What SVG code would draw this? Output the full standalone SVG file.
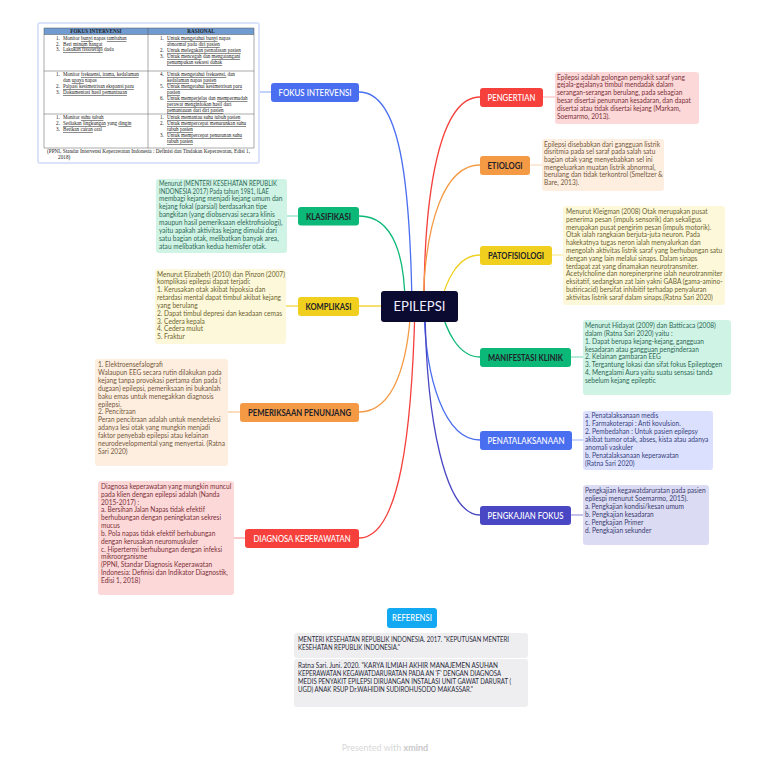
<svg xmlns="http://www.w3.org/2000/svg" width="768" height="759" viewBox="0 0 768 759">
<style>
text{font-family:"Lato","Noto Sans","Liberation Sans",sans-serif}
.t{font-size:9.5px;font-weight:500;text-anchor:middle}
.w{fill:#fff}.d{fill:#22222a;font-weight:700}
.n{font-size:6.6px}
.c{fill:none;stroke-width:1.3}
.l{fill:none;stroke-width:1.1}
.tb text{font-family:"Liberation Serif","Times New Roman",serif;font-size:5.1px;fill:#222}
.tb .h{font-weight:700;text-anchor:middle;font-size:5.2px}
.tb .k{font-size:5.25px}
.u{text-decoration:underline;text-decoration-color:#d0343a;text-decoration-thickness:.6px}
.g{stroke:#555;stroke-width:.5;fill:none}
</style>
<rect width="768" height="759" fill="#fff"/>
<g id="connectors">
<path class="c" stroke="#f5403c" d="M424 306C424 190 440 97 480 97"/>
<path class="c" stroke="#f59a44" d="M423 306C425 220 445 165 480 165"/>
<path class="c" stroke="#f0cf1e" d="M440 306C446 280 458 255 480 255"/>
<path class="c" stroke="#0bb877" d="M440 306C446 330 458 357 480 357"/>
<path class="c" stroke="#4a6ef0" d="M424 306C425 380 445 440 480 440"/>
<path class="c" stroke="#4a47c4" d="M425 306C426 420 445 515 480 515"/>
<path class="c" stroke="#4a6ef0" d="M412 306C410 180 400 92 359 92"/>
<path class="c" stroke="#0bb877" d="M405 306C405 260 395 216 359 216"/>
<path class="c" stroke="#f0cf1e" d="M381 306H359"/>
<path class="c" stroke="#f59a44" d="M411 306C408 360 395 412 359 412"/>
<path class="c" stroke="#f5403c" d="M415 306C412 430 400 538 359 538"/>
<path class="l" stroke="#fbb" d="M543 97H555"/>
<path class="l" stroke="#fcd9b8" d="M530 165H542"/>
<path class="l" stroke="#f6e88a" d="M552 255H563"/>
<path class="l" stroke="#7edcb8" d="M571 357H583"/>
<path class="l" stroke="#a5b5f8" d="M572 440H583"/>
<path class="l" stroke="#8f8edc" d="M571 515H583"/>
<path class="l" stroke="#8fb0f4" d="M259 92H271"/>
<path class="l" stroke="#7edcb8" d="M287 216H298"/>
<path class="l" stroke="#f0cf1e" d="M286 306H298"/>
<path class="l" stroke="#f9c089" d="M228 412H240"/>
<path class="l" stroke="#f59a9a" d="M234 538H245"/>
</g>
<g id="central"><rect x="381" y="291" width="77" height="31" rx="3" fill="#0b0b32"/><text x="419.500" y="311" text-anchor="middle" font-size="12.500" fill="#eef" textLength="52" lengthAdjust="spacingAndGlyphs">EPILEPSI</text></g>

<g id="fokus-intervensi"><rect x="38" y="23" width="221" height="140" rx="2" fill="#fff" stroke="#dbe3fb" stroke-width="2"/>
<g class="tb">
<rect x="44" y="28" width="210" height="6.500" fill="#6f9bd1"/>
<path class="g" d="M44 28H254V148H44ZM148 28V148M44 34.500H254M44 71H254M44 114H254"/>
<text class="h" x="96" y="33.300">FOKUS INTERVENSI</text><text class="h" x="201" y="33.300">RASIONAL</text>
<text x="56" y="40">1.</text><text x="63" y="40">Monitor <tspan class="u">bunyi</tspan> napas <tspan class="u">tambahan</tspan></text>
<text x="56" y="46">2.</text><text x="63" y="46">Beri <tspan class="u">minum hangat</tspan></text>
<text x="56" y="51">3.</text><text x="63" y="51"><tspan class="u">Lakukan fisioterapi</tspan> dada</text>
<text x="160" y="40">1.</text><text x="167" y="40"><tspan class="u">Untuk mengetahui bunyi</tspan> napas</text>
<text x="167" y="46">abnormal pada <tspan class="u">diri pasien</tspan></text>
<text x="160" y="52">2.</text><text x="167" y="52"><tspan class="u">Untuk melegakan pernafasan pasien</tspan></text>
<text x="160" y="58">3.</text><text x="167" y="58"><tspan class="u">Untuk mencegah</tspan> dan <tspan class="u">mengatangani</tspan></text>
<text x="167" y="64"><tspan class="u">penumpukan sekresi dahak</tspan></text>
<text x="56" y="76">1.</text><text x="63" y="76">Monitor <tspan class="u">frekuensi, irama, kedalaman</tspan></text>
<text x="63" y="82">dan <tspan class="u">upaya</tspan> napas</text>
<text x="56" y="88">2.</text><text x="63" y="88"><tspan class="u">Palpasi kesimetrisan ekspansi paru</tspan></text>
<text x="56" y="94">3.</text><text x="63" y="94"><tspan class="u">Dokumentasi hasil pemantauan</tspan></text>
<text x="160" y="76">4.</text><text x="167" y="76"><tspan class="u">Untuk mengetahui frekuensi,</tspan> dan</text>
<text x="167" y="82"><tspan class="u">kedalaman</tspan> napas <tspan class="u">pasien</tspan></text>
<text x="160" y="88">5.</text><text x="167" y="88"><tspan class="u">Untuk mengetahui kesimetrisan paru</tspan></text>
<text x="167" y="94"><tspan class="u">pasien</tspan></text>
<text x="160" y="100">6.</text><text x="167" y="100"><tspan class="u">Untuk memperjelas</tspan> dan <tspan class="u">mempermudah</tspan></text>
<text x="167" y="106"><tspan class="u">perawat menginfokan hasil</tspan> dari</text>
<text x="167" y="112"><tspan class="u">pemantauan dari diri pasien</tspan></text>
<text x="56" y="119">1.</text><text x="63" y="119">Monitor <tspan class="u">suhu tubuh</tspan></text>
<text x="56" y="125">2.</text><text x="63" y="125"><tspan class="u">Sediakan lingkungan</tspan> yang <tspan class="u">dingin</tspan></text>
<text x="56" y="131">3.</text><text x="63" y="131"><tspan class="u">Berikan cairan</tspan> oral</text>
<text x="160" y="119">1.</text><text x="167" y="119"><tspan class="u">Untuk memantau suhu tubuh pasien</tspan></text>
<text x="160" y="125">2.</text><text x="167" y="125"><tspan class="u">Untuk mempercepat menurunkan suhu</tspan></text>
<text x="167" y="131"><tspan class="u">tubuh pasien</tspan></text>
<text x="160" y="137">3.</text><text x="167" y="137"><tspan class="u">Untuk mempercepat penurunan suhu</tspan></text>
<text x="167" y="143"><tspan class="u">tubuh pasien</tspan></text>
<text class="k" x="47" y="153" textLength="203" lengthAdjust="spacingAndGlyphs">(PPNI, Standar Intervensi Keperawatan Indonesia : Definisi dan Tindakan Keperawatan, Edisi 1,</text>
<text class="k" x="58" y="159">2018)</text>
</g>
<rect x="271" y="83" width="88" height="19" rx="3" fill="#4a6ef0"/><text class="t w" x="315" y="95.500" textLength="73" lengthAdjust="spacingAndGlyphs">FOKUS INTERVENSI</text></g>

<g id="pengertian"><rect x="480" y="88" width="63" height="19" rx="3" fill="#f5403c"/><text class="t w" x="511.500" y="100.500" textLength="48" lengthAdjust="spacingAndGlyphs">PENGERTIAN</text>
<rect x="555" y="72" width="144" height="52" rx="3" fill="#fdd8d8"/>
<text class="n" fill="#7a3038" y="79.500"><tspan x="557">Epilepsi adalah golongan penyakit saraf yang</tspan><tspan x="557" dy="7.900">gejala-gejalanya timbul mendadak dalam</tspan><tspan x="557" dy="7.900">serangan-serangan berulang, pada sebagian</tspan><tspan x="557" dy="7.900">besar disertai penurunan kesadaran, dan dapat</tspan><tspan x="557" dy="7.900">disertai atau tidak disertai kejang (Markam,</tspan><tspan x="557" dy="7.900">Soemarmo, 2013).</tspan></text></g>

<g id="etiologi"><rect x="480" y="156" width="50" height="19" rx="3" fill="#f59a44"/><text class="t d" x="505" y="168.500" textLength="35" lengthAdjust="spacingAndGlyphs">ETIOLOGI</text>
<rect x="542" y="139" width="122" height="52" rx="3" fill="#fdeee0"/>
<text class="n" fill="#75583c" y="146.500"><tspan x="544">Epilepsi disebabkan dari gangguan listrik</tspan><tspan x="544" dy="7.700">disritmia pada sel saraf pada salah satu</tspan><tspan x="544" dy="7.700">bagian otak yang menyebabkan sel ini</tspan><tspan x="544" dy="7.700">mengeluarkan muatan listrik abnormal,</tspan><tspan x="544" dy="7.700">berulang dan tidak terkontrol (Smeltzer &amp;</tspan><tspan x="544" dy="7.700">Bare, 2013).</tspan></text></g>

<g id="patofisiologi"><rect x="480" y="246" width="72" height="19" rx="3" fill="#f0cf1e"/><text class="t d" x="516" y="258.500" textLength="56" lengthAdjust="spacingAndGlyphs">PATOFISIOLOGI</text>
<rect x="563" y="206" width="162" height="99" rx="3" fill="#fdf8da"/>
<text class="n" fill="#6d6430" y="214"><tspan x="566">Menurut Kleigman (2008) Otak merupakan pusat</tspan><tspan x="566" dy="7.800">penerima pesan (impuls sensorik) dan sekaligus</tspan><tspan x="566" dy="7.800">merupakan pusat pengirim pesan (impuls motorik).</tspan><tspan x="566" dy="7.800">Otak ialah rangkaian berjuta-juta neuron. Pada</tspan><tspan x="566" dy="7.800">hakekatnya tugas neron ialah menyalurkan dan</tspan><tspan x="566" dy="7.800">mengolah aktivitas listrik saraf yang berhubungan satu</tspan><tspan x="566" dy="7.800">dengan yang lain melalui sinaps. Dalam sinaps</tspan><tspan x="566" dy="7.800">terdapat zat yang dinamakan neurotransmiter.</tspan><tspan x="566" dy="7.800">Acetylcholine dan norepinerprine ialah neurotranmiter</tspan><tspan x="566" dy="7.800">eksitatif, sedangkan zat lain yakni GABA (gama-amino-</tspan><tspan x="566" dy="7.800">butiricacid) bersifat inhibitif terhadap penyaluran</tspan><tspan x="566" dy="7.800">aktivitas listrik saraf dalam sinaps.(Ratna Sari 2020)</tspan></text></g>

<g id="manifestasi-klinik"><rect x="480" y="348" width="91" height="19" rx="3" fill="#0bb877"/><text class="t d" x="525.500" y="360.500" textLength="75" lengthAdjust="spacingAndGlyphs">MANIFESTASI KLINIK</text>
<rect x="583" y="320" width="148" height="75" rx="3" fill="#cff3e4"/>
<text class="n" fill="#2f6a58" y="328.300"><tspan x="585">Menurut Hidayat (2009) dan Batticaca (2008)</tspan><tspan x="585" dy="7.750">dalam (Ratna Sari 2020) yaitu :</tspan><tspan x="585" dy="7.750">1. Dapat berupa kejang-kejang, gangguan</tspan><tspan x="585" dy="7.750">kesadaran atau gangguan penginderaan</tspan><tspan x="585" dy="7.750">2. Kelainan gambaran EEG</tspan><tspan x="585" dy="7.750">3. Tergantung lokasi dan sifat fokus Epileptogen</tspan><tspan x="585" dy="7.750">4. Mengalami Aura yaitu suatu sensasi tanda</tspan><tspan x="585" dy="7.750">sebelum kejang epileptic</tspan></text></g>

<g id="penatalaksanaan"><rect x="480" y="431" width="92" height="19" rx="3" fill="#4a6ef0"/><text class="t w" x="526" y="443.500" textLength="77" lengthAdjust="spacingAndGlyphs">PENATALAKSANAAN</text>
<rect x="583" y="411" width="130" height="59" rx="3" fill="#dbe0ff"/>
<text class="n" fill="#39427a" y="418.300"><tspan x="585">a. Penatalaksanaan medis</tspan><tspan x="585" dy="7.900">1. Farmakoterapi : Anti kovulsion.</tspan><tspan x="585" dy="7.900">2. Pembedahan : Untuk pasien epilepsy</tspan><tspan x="585" dy="7.900">akibat tumor otak, abses, kista atau adanya</tspan><tspan x="585" dy="7.900">anomali vaskuler</tspan><tspan x="585" dy="7.900">b. Penatalaksanaan keperawatan</tspan><tspan x="585" dy="7.900">(Ratna Sari 2020)</tspan></text></g>

<g id="pengkajian-fokus"><rect x="480" y="506" width="91" height="19" rx="3" fill="#4a47c4"/><text class="t w" x="525.500" y="518.500" textLength="76" lengthAdjust="spacingAndGlyphs">PENGKAJIAN FOKUS</text>
<rect x="583" y="485" width="126" height="60" rx="3" fill="#dbdcf3"/>
<text class="n" fill="#3a3a70" y="493.300"><tspan x="585">Pengkajian kegawatdaruratan pada pasien</tspan><tspan x="585" dy="7.850">epliespi menurut Soemarmo, 2015).</tspan><tspan x="585" dy="7.850">a. Pengkajian kondisi/kesan umum</tspan><tspan x="585" dy="7.850">b. Pengkajian kesadaran</tspan><tspan x="585" dy="7.850">c. Pengkajian Primer</tspan><tspan x="585" dy="7.850">d. Pengkajian sekunder</tspan></text></g>

<g id="klasifikasi"><rect x="298" y="207" width="61" height="18.500" rx="3" fill="#0bb877"/><text class="t d" x="328.500" y="219.500" textLength="45" lengthAdjust="spacingAndGlyphs">KLASIFIKASI</text>
<rect x="156" y="179" width="131" height="74" rx="3" fill="#cff3e4"/>
<g class="n" fill="#2f6a58"><text x="159" y="185.600" textLength="118" lengthAdjust="spacingAndGlyphs">Menurut (MENTERI KESEHATAN REPUBLIK</text><text x="159" y="193.500" textLength="110" lengthAdjust="spacingAndGlyphs">INDONESIA 2017) Pada tahun 1981, ILAE</text>
<text y="193.500"><tspan x="159" dy="7.900">membagi kejang menjadi kejang umum dan</tspan><tspan x="159" dy="7.900">kejang fokal (parsial) berdasarkan tipe</tspan><tspan x="159" dy="7.900">bangkitan (yang diobservasi secara klinis</tspan><tspan x="159" dy="7.900">maupun hasil pemeriksaan elektrofisiologi),</tspan><tspan x="159" dy="7.900">yaitu apakah aktivitas kejang dimulai dari</tspan><tspan x="159" dy="7.900">satu bagian otak, melibatkan banyak area,</tspan><tspan x="159" dy="7.900">atau melibatkan kedua hemisfer otak.</tspan></text></g></g>

<g id="komplikasi"><rect x="298" y="297" width="61" height="19" rx="3" fill="#f0cf1e"/><text class="t d" x="328.500" y="309.500" textLength="46" lengthAdjust="spacingAndGlyphs">KOMPLIKASI</text>
<rect x="155" y="269" width="131" height="75" rx="3" fill="#fdf8da"/>
<text class="n" fill="#6d6430" y="276.500"><tspan x="157">Menurut Elizabeth (2010) dan Pinzon (2007)</tspan><tspan x="157" dy="7.850">komplikasi epilepsi dapat terjadi:</tspan><tspan x="157" dy="7.850">1. Kerusakan otak akibat hipoksia dan</tspan><tspan x="157" dy="7.850">retardasi mental dapat timbul akibat kejang</tspan><tspan x="157" dy="7.850">yang berulang</tspan><tspan x="157" dy="7.850">2. Dapat timbul depresi dan keadaan cemas</tspan><tspan x="157" dy="7.850">3. Cedera kepala</tspan><tspan x="157" dy="7.850">4. Cedera mulut</tspan><tspan x="157" dy="7.850">5. Fraktur</tspan></text></g>

<g id="pemeriksaan-penunjang"><rect x="240" y="403" width="119" height="19" rx="3" fill="#f59a44"/><text class="t d" x="299.500" y="415.500" textLength="103" lengthAdjust="spacingAndGlyphs">PEMERIKSAAN PENUNJANG</text>
<rect x="95" y="359" width="133" height="107" rx="3" fill="#fdeee0"/>
<text class="n" fill="#75583c" y="367.200"><tspan x="98">1. Elektroensefalografi</tspan><tspan x="98" dy="7.880">Walaupun EEG secara rutin dilakukan pada</tspan><tspan x="98" dy="7.880">kejang tanpa provokasi pertama dan pada (</tspan><tspan x="98" dy="7.880">dugaan) epilepsi, pemeriksaan ini bukanlah</tspan><tspan x="98" dy="7.880">baku emas untuk menegakkan diagnosis</tspan><tspan x="98" dy="7.880">epilepsi.</tspan><tspan x="98" dy="7.880">2. Pencitraan</tspan><tspan x="98" dy="7.880">Peran pencitraan adalah untuk mendeteksi</tspan><tspan x="98" dy="7.880">adanya lesi otak yang mungkin menjadi</tspan><tspan x="98" dy="7.880">faktor penyebab epilepsi atau kelainan</tspan><tspan x="98" dy="7.880">neurodevelopmental yang menyertai. (Ratna</tspan><tspan x="98" dy="7.880">Sari 2020)</tspan></text></g>

<g id="diagnosa-keperawatan"><rect x="245" y="529" width="114" height="19" rx="3" fill="#f5403c"/><text class="t w" x="302" y="541.500" textLength="97" lengthAdjust="spacingAndGlyphs">DIAGNOSA KEPERAWATAN</text>
<rect x="98" y="481" width="136" height="114" rx="3" fill="#fdd8d8"/>
<text class="n" fill="#7a3038" y="488.900"><tspan x="101">Diagnosa keperawatan yang mungkin muncul</tspan><tspan x="101" dy="7.830">pada klien dengan epilepsi adalah (Nanda</tspan><tspan x="101" dy="7.830">2015-2017) :</tspan><tspan x="101" dy="7.830">a. Bersihan Jalan Napas tidak efektif</tspan><tspan x="101" dy="7.830">berhubungan dengan peningkatan sekresi</tspan><tspan x="101" dy="7.830">mucus</tspan><tspan x="101" dy="7.830">b. Pola napas tidak efektif berhubungan</tspan><tspan x="101" dy="7.830">dengan kerusakan neuromuskuler</tspan><tspan x="101" dy="7.830">c. Hipertermi berhubungan dengan infeksi</tspan><tspan x="101" dy="7.830">mikroorganisme</tspan><tspan x="101" dy="7.830">(PPNI, Standar Diagnosis Keperawatan</tspan><tspan x="101" dy="7.830">Indonesia: Definisi dan Indikator Diagnostik,</tspan><tspan x="101" dy="7.830">Edisi 1, 2018)</tspan></text></g>

<g id="referensi"><rect x="387" y="608" width="50" height="20" rx="3" fill="#12a8f2"/><text class="t w" x="412" y="621" textLength="40" lengthAdjust="spacingAndGlyphs">REFERENSI</text>
<rect x="294" y="633" width="234" height="25" rx="3" fill="#eeeef0"/>
<g class="n" fill="#2a2a3a"><text x="298" y="642.200" textLength="211" lengthAdjust="spacingAndGlyphs">MENTERI KESEHATAN REPUBLIK INDONESIA. 2017. "KEPUTUSAN MENTERI</text><text x="298" y="650.200" textLength="102" lengthAdjust="spacingAndGlyphs">KESEHATAN REPUBLIK INDONESIA."</text></g>
<rect x="294" y="659" width="234" height="48" rx="3" fill="#eeeef0"/>
<g class="n" fill="#2a2a3a"><text x="298" y="667.900" textLength="200" lengthAdjust="spacingAndGlyphs">Ratna Sari. Juni. 2020. "KARYA ILMIAH AKHIR MANAJEMEN ASUHAN</text><text x="298" y="676" textLength="203" lengthAdjust="spacingAndGlyphs">KEPERAWATAN KEGAWATDARURATAN PADA AN 'F' DENGAN DIAGNOSA</text><text x="298" y="684.100" textLength="213" lengthAdjust="spacingAndGlyphs">MEDIS PENYAKIT EPILEPSI DIRUANGAN INSTALASI UNIT GAWAT DARURAT (</text><text x="298" y="692.200" textLength="175" lengthAdjust="spacingAndGlyphs">UGD) ANAK RSUP Dr.WAHIDIN SUDIROHUSODO MAKASSAR."</text></g></g>

<text x="385" y="751" text-anchor="middle" font-size="9" fill="#d8d8d8">Presented with <tspan font-weight="700" fill="#c8c8c8">xmind</tspan></text>
</svg>
